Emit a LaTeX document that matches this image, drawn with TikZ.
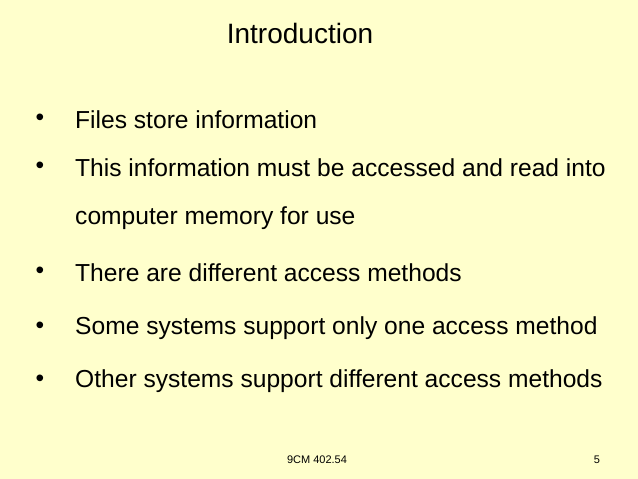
\documentclass[tikz,border=0pt]{standalone}
\usepackage{fontspec}
\setmainfont{Liberation Sans}
\begin{document}
\begin{tikzpicture}[x=1pt,y=1pt,
  txt/.style={anchor=west,inner sep=0pt,font=\fontsize{24.6}{28}\selectfont},
  bul/.style={inner sep=0pt,font=\fontsize{24.6}{28}\selectfont},
  foot/.style={inner sep=0pt,font=\fontsize{11}{13}\selectfont}]
\fill[fill={rgb,255:red,255;green,255;blue,204}] (0,0) rectangle (638,479);
\useasboundingbox (0,0) rectangle (638,479);
\node[inner sep=0pt,font=\fontsize{28}{32}\selectfont] (title) at (300,446) {Introduction};
\node[bul] (b1) at (40,359) {•};
\node[txt] (t1) at (75,359) {Files store information};
\node[bul] (b2) at (40,311) {•};
\node[txt] (t2) at (75,311) {This information must be accessed and read into};
\node[txt] (t2b) at (75,261) {computer memory for use};
\node[bul] (b3) at (40,206) {•};
\node[txt] (t3) at (75,206) {There are different access methods};
\node[bul] (b4) at (40,151) {•};
\node[txt] (t4) at (75,151) {Some systems support only one access method};
\node[bul] (b5) at (40,98) {•};
\node[txt] (t5) at (75,98) {Other systems support different access methods};
\node[foot] (f1) at (317,19) {9CM 402.54};
\node[foot] (f2) at (597,19) {5};
\end{tikzpicture}
\end{document}
